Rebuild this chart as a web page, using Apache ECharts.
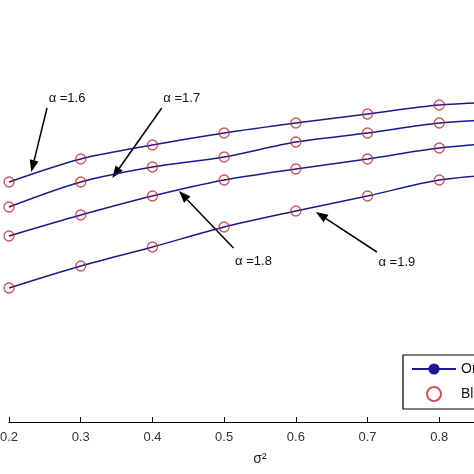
<!DOCTYPE html><html><head><meta charset="utf-8"><script src="https://cdn.jsdelivr.net/npm/echarts@6/dist/echarts.min.js"></script>
<style>html,body{margin:0;padding:0;background:#fff;overflow:hidden;width:474px;height:474px}#c{position:absolute;left:-3px;top:0;width:526px;height:474px}</style></head><body><div id="c"></div><script>
const sigma2 = [0.2,0.3,0.4,0.5,0.6,0.7,0.8,0.9];
const alphas = ['1.6','1.7','1.8','1.9'];
const a16 = [2.40,2.63,2.77,2.89,2.99,3.08,3.17,3.20];
const a17 = [2.15,2.40,2.55,2.65,2.80,2.89,2.99,3.03];
const a18 = [1.86,2.07,2.26,2.42,2.53,2.63,2.74,2.80];
const a19 = [1.34,1.56,1.75,1.95,2.11,2.26,2.42,2.48];
const xTicks = ['0.2','0.3','0.4','0.5','0.6','0.7','0.8','0.9'];
const notes = [
 {t:'α =1.6', from:[0.253,3.14], to:[0.231,2.50], dy:-10},
 {t:'α =1.7', from:[0.413,3.14], to:[0.344,2.44], dy:-10},
 {t:'α =1.8', from:[0.513,1.74], to:[0.437,2.31], dy:13},
 {t:'α =1.9', from:[0.713,1.70], to:[0.628,2.10], dy:10}
];
const sets=[a16,a17,a18,a19];
const series=[];
sets.forEach((d,i)=>{
  const pts=sigma2.map((x,j)=>[x,d[j]]);
  series.push({name:'Original',type:'line',data:pts,smooth:0.3,symbol:'none',lineStyle:{color:'#1a1a8c',width:1.5},itemStyle:{color:'#1a1a8c'},z:2});
  series.push({name:'Blind',type:'scatter',data:pts,symbol:'circle',symbolSize:10,itemStyle:{color:'rgba(0,0,0,0)',borderColor:'#c0282d',borderWidth:1.3},z:3});
});
const chart=echarts.init(document.getElementById('c'));
chart.setOption({
 animation:false,
 grid:{left:0,right:0,top:0,bottom:52},
 xAxis:{type:'value',min:0.2,max:0.9,interval:0.1,name:'σ²',nameLocation:'middle',nameGap:30,
   nameTextStyle:{color:'#222',fontSize:14,fontFamily:'Arial'},
   axisLine:{lineStyle:{color:'#000',width:1.2}},axisTick:{inside:true,length:5,lineStyle:{color:'#000'}},
   axisLabel:{color:'#333',fontSize:13,fontFamily:'Arial',margin:9,formatter:v=>xTicks[Math.round((v-0.2)*10)]||''},splitLine:{show:false}},
 yAxis:{type:'value',min:0,max:4.22,show:false},
 legend:{data:['Original','Blind'],orient:'vertical',left:406,top:355,itemGap:10,padding:[7,10,7,8],
   borderColor:'#000',borderWidth:1.2,backgroundColor:'#fff',itemWidth:44,textStyle:{fontSize:14,color:'#111'}},
 series
});
const g=[];
notes.forEach(n=>{
  const p1=chart.convertToPixel({gridIndex:0},n.from), p2=chart.convertToPixel({gridIndex:0},n.to);
  const ang=Math.atan2(p2[1]-p1[1],p2[0]-p1[0]), L=12,W=4.5;
  const bx=p2[0]-L*Math.cos(ang), by=p2[1]-L*Math.sin(ang);
  g.push({type:'line',shape:{x1:p1[0],y1:p1[1],x2:bx,y2:by},style:{stroke:'#000',lineWidth:1.5}});
  g.push({type:'polygon',shape:{points:[[p2[0],p2[1]],[bx-W*Math.sin(ang),by+W*Math.cos(ang)],[bx+W*Math.sin(ang),by-W*Math.cos(ang)]]},style:{fill:'#000'}});
  g.push({type:'text',x:p1[0]+20,y:p1[1]+n.dy,style:{text:n.t,fontSize:13,fontFamily:'Arial',fill:'#111',align:'center',verticalAlign:'middle'}});
});
chart.setOption({graphic:g});
</script></body></html>
